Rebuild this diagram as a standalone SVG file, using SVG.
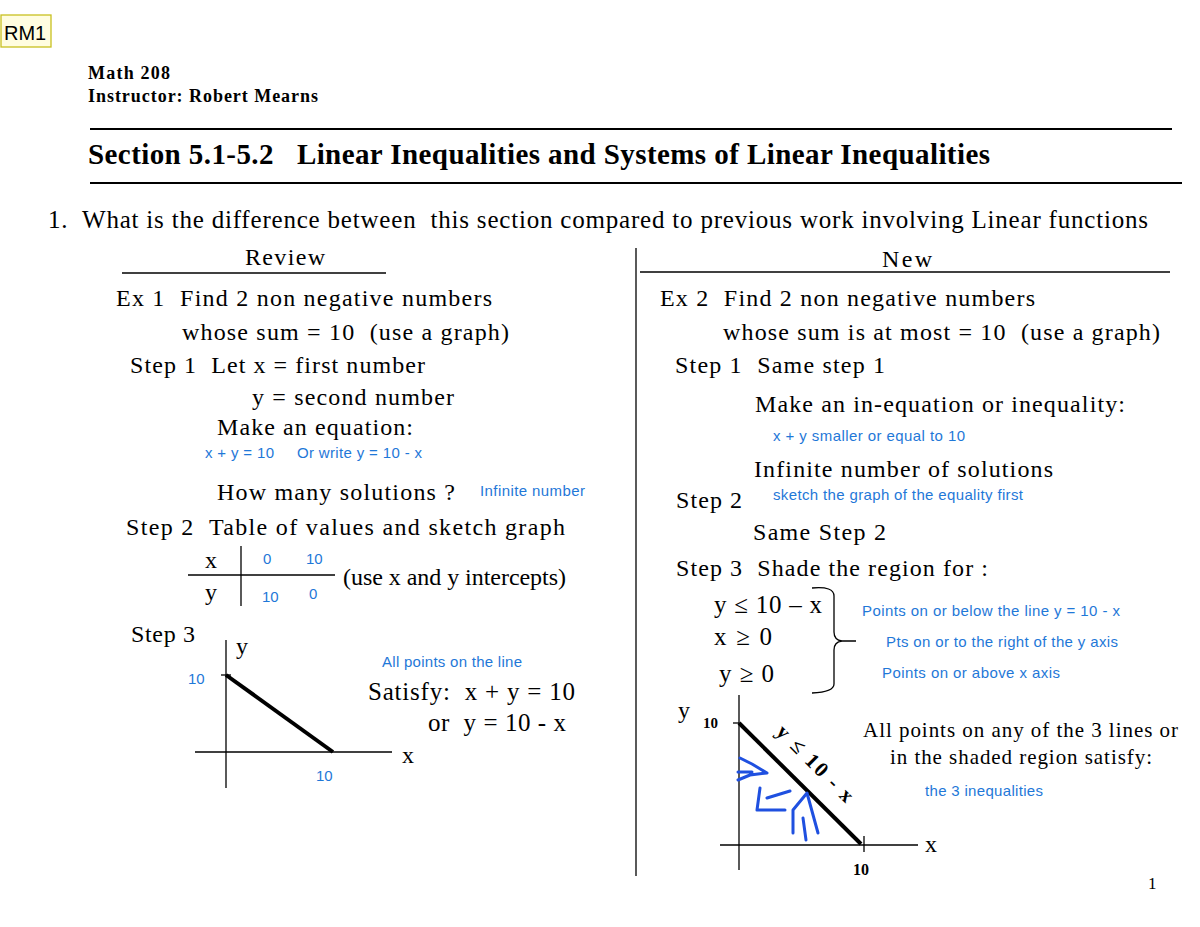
<svg xmlns="http://www.w3.org/2000/svg" width="1200" height="927" viewBox="0 0 1200 927">
<style>
text{white-space:pre}
.t{font-family:"Liberation Serif",serif;fill:#000}
.b{font-family:"Liberation Sans",sans-serif;fill:#1f78d8;font-size:15px}
.ln{stroke:#000;stroke-width:1.3;fill:none}
.sc{stroke:#1f50e0;stroke-width:3;fill:none;stroke-linecap:round;stroke-linejoin:round}
</style>
<rect width="1200" height="927" fill="#fff"/>
<rect x="1" y="15" width="50" height="32" fill="#fffde0" stroke="#c8c020" stroke-width="1.3"/>
<text x="4" y="40" font-family="Liberation Sans,sans-serif" font-size="20">RM1</text>
<text class="t" x="88" y="79" font-size="18" font-weight="bold" textLength="82">Math 208</text>
<text class="t" x="88" y="102" font-size="18" font-weight="bold" textLength="230">Instructor: Robert Mearns</text>
<line x1="90" y1="129" x2="1172" y2="129" stroke="#000" stroke-width="2"/>
<text class="t" x="88" y="164" font-size="29" font-weight="bold" textLength="902">Section 5.1-5.2   Linear Inequalities and Systems of Linear Inequalities</text>
<line x1="90" y1="183" x2="1182" y2="183" stroke="#000" stroke-width="2"/>
<text class="t" x="48" y="228" font-size="25" textLength="1100">1.  What is the difference between  this section compared to previous work involving Linear functions</text>
<text class="t" x="245" y="265" font-size="24" textLength="80">Review</text>
<text class="t" x="882" y="267" font-size="24" textLength="50">New</text>
<line class="ln" x1="122" y1="273" x2="386" y2="273"/>
<line class="ln" x1="640" y1="272" x2="1170" y2="272"/>
<line class="ln" x1="636" y1="248" x2="636" y2="876"/>
<g id="left">
<text class="t" x="116" y="306" font-size="24" textLength="376">Ex 1  Find 2 non negative numbers</text>
<text class="t" x="182" y="340" font-size="24" textLength="327">whose sum = 10  (use a graph)</text>
<text class="t" x="130" y="373" font-size="24" textLength="295">Step 1  Let x = first number</text>
<text class="t" x="252" y="405" font-size="24" textLength="202">y = second number</text>
<text class="t" x="217" y="435" font-size="24" textLength="196">Make an equation:</text>
<text class="b" x="205" y="458" textLength="217">x + y = 10     Or write y = 10 - x</text>
<text class="t" x="217" y="500" font-size="24" textLength="238">How many solutions ?</text>
<text class="b" x="480" y="496" textLength="105">Infinite number</text>
<text class="t" x="126" y="535" font-size="24" textLength="439">Step 2  Table of values and sketch graph</text>
<text class="t" x="205" y="568" font-size="24">x</text>
<text class="t" x="205" y="600" font-size="24">y</text>
<line class="ln" x1="188" y1="575" x2="335" y2="575"/>
<line class="ln" x1="241" y1="546" x2="241" y2="606"/>
<text class="b" x="263" y="564">0</text><text class="b" x="306" y="564">10</text>
<text class="b" x="262" y="602">10</text><text class="b" x="309" y="599">0</text>
<text class="t" x="343" y="585" font-size="24" textLength="223">(use x and y intercepts)</text>
<text class="t" x="131" y="642" font-size="24" textLength="64">Step 3</text>
<text class="t" x="236" y="654" font-size="24">y</text>
<text class="b" x="188" y="684">10</text>
<line class="ln" x1="226" y1="640" x2="226" y2="788"/>
<line class="ln" x1="195" y1="752" x2="392" y2="752"/>
<line x1="226" y1="675" x2="333" y2="752" stroke="#000" stroke-width="4"/>
<line class="ln" x1="221" y1="675" x2="231" y2="675"/>
<text class="b" x="316" y="781">10</text>
<text class="t" x="402" y="763" font-size="24">x</text>
<text class="b" x="382" y="667" textLength="140">All points on the line</text>
<text class="t" x="368" y="700" font-size="25" textLength="207">Satisfy:  x + y = 10</text>
<text class="t" x="428" y="731" font-size="25" textLength="138">or  y = 10 - x</text>
</g>
<g id="right">
<text class="t" x="660" y="306" font-size="24" textLength="375">Ex 2  Find 2 non negative numbers</text>
<text class="t" x="723" y="340" font-size="24" textLength="437">whose sum is at most = 10  (use a graph)</text>
<text class="t" x="675" y="373" font-size="24" textLength="210">Step 1  Same step 1</text>
<text class="t" x="755" y="412" font-size="24" textLength="370">Make an in-equation or inequality:</text>
<text class="b" x="773" y="441" textLength="192">x + y smaller or equal to 10</text>
<text class="t" x="754" y="477" font-size="24" textLength="299">Infinite number of solutions</text>
<text class="t" x="676" y="508" font-size="24" textLength="66">Step 2</text>
<text class="b" x="773" y="500" textLength="250">sketch the graph of the equality first</text>
<text class="t" x="753" y="540" font-size="24" textLength="133">Same Step 2</text>
<text class="t" x="676" y="576" font-size="24" textLength="312">Step 3  Shade the region for :</text>
<text class="t" x="714" y="613" font-size="25" textLength="108">y ≤ 10 – x</text>
<text class="t" x="714" y="645" font-size="25" textLength="58">x ≥ 0</text>
<text class="t" x="719" y="682" font-size="25" textLength="55">y ≥ 0</text>
<path class="ln" d="M812,588 Q834,586 834,596 L834,632 Q834,640 842,641 L856,641 M842,641 Q834,642 834,650 L834,684 Q834,692 812,693"/>
<text class="b" x="862" y="616" textLength="258">Points on or below the line y = 10 - x</text>
<text class="b" x="886" y="647" textLength="232">Pts on or to the right of the y axis</text>
<text class="b" x="882" y="678" textLength="178">Points on or above x axis</text>
<text class="t" x="678" y="718" font-size="24">y</text>
<text class="t" x="703" y="728" font-size="15" font-weight="bold">10</text>
<line class="ln" x1="739" y1="695" x2="739" y2="870"/>
<line class="ln" x1="720" y1="845" x2="918" y2="845"/>
<line class="ln" x1="733" y1="723" x2="739" y2="723"/>
<line class="ln" x1="864" y1="836" x2="864" y2="852"/>
<line x1="739" y1="723" x2="861" y2="844" stroke="#000" stroke-width="4"/>
<text class="t" font-size="21" font-weight="bold" transform="translate(775,733) rotate(45)" textLength="100">y ≤ 10 - x</text>
<text class="t" x="853" y="875" font-size="16" font-weight="bold">10</text>
<text class="t" x="925" y="852" font-size="24">x</text>
<path class="sc" d="M740,758 L752,764 L767,773 L750,775 L738,780 M738,772 L752,772"/>
<path class="sc" d="M790,791 L767,798 M760,788 L757,810 L785,810"/>
<path class="sc" d="M793,833 L793,810 L807,793 L818,833 M803,818 L806,840"/>
<text class="t" x="863" y="737" font-size="21" textLength="315">All points on any of the 3 lines or</text>
<text class="t" x="890" y="764" font-size="21" textLength="262">in the shaded region satisfy:</text>
<text class="b" x="925" y="796" textLength="118">the 3 inequalities</text>
</g>
<text class="t" x="1148" y="889" font-size="17">1</text>
</svg>
